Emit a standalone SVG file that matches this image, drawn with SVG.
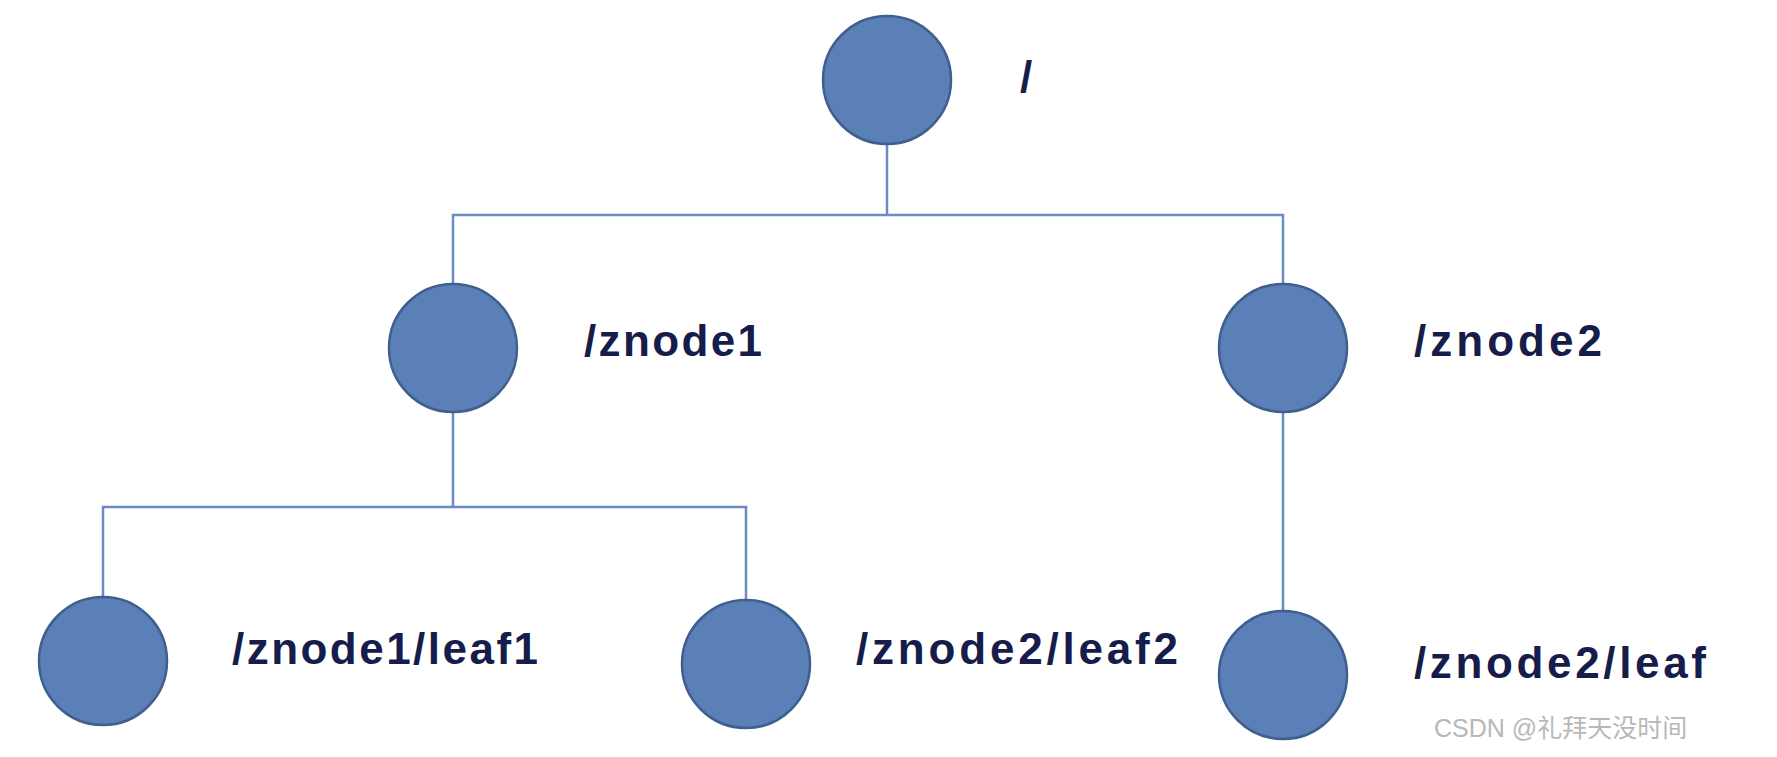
<svg xmlns="http://www.w3.org/2000/svg" width="1777" height="757" viewBox="0 0 1777 757">
<style>
.n{fill:#5b80b8;stroke:#3f5f8e;stroke-width:2.5}
.c{fill:none;stroke:#6a8cc0;stroke-width:2.5}
.t{font-family:"Liberation Sans",sans-serif;font-weight:bold;font-size:44px;fill:#161d4a}
</style>
<rect width="1777" height="757" fill="#fff"/>
<g id="connectors">
<path class="c" d="M887 144V215M453 284V215H1283V284M453 412V507M103 597V507H746V600M1283 412V611"/>
</g>
<g id="root"><circle class="n" cx="887" cy="80" r="64"/><text class="t" x="1020" y="92">/</text></g>
<g id="znode1"><circle class="n" cx="453" cy="348" r="64"/><text class="t" x="584" y="356" textLength="178">/znode1</text></g>
<g id="znode2"><circle class="n" cx="1283" cy="348" r="64"/><text class="t" x="1414" y="356" textLength="188">/znode2</text></g>
<g id="leaf1"><circle class="n" cx="103" cy="661" r="64"/><text class="t" x="232" y="664" textLength="306">/znode1/leaf1</text></g>
<g id="leaf2"><circle class="n" cx="746" cy="664" r="64"/><text class="t" x="856" y="664" textLength="322">/znode2/leaf2</text></g>
<g id="leaf"><circle class="n" cx="1283" cy="675" r="64"/><text class="t" x="1414" y="678" textLength="292">/znode2/leaf</text></g>
<text x="1434" y="737" font-family="'Liberation Sans','Noto Sans CJK SC',sans-serif" font-size="25" fill="#b8b8b8">CSDN @礼拜天没时间</text>
</svg>
